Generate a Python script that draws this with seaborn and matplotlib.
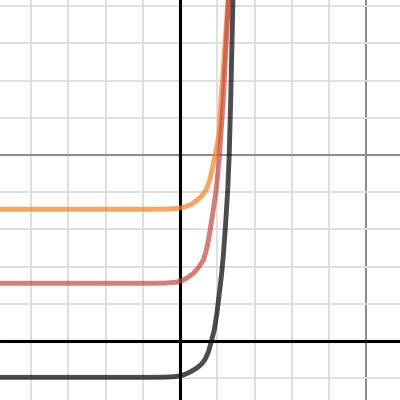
import matplotlib
matplotlib.use("Agg")
import matplotlib.pyplot as plt
import seaborn as sns
import numpy as np
import pandas as pd

# points, in graph units
dark_x = [-4.84, -0.8, -0.4, -0.13, 0.05, 0.18, 0.30, 0.45, 0.57, 0.67, 0.76, 0.83,
          0.92, 0.99, 1.05, 1.11, 1.16, 1.22, 1.28, 1.32, 1.36, 1.42, 1.44]
dark_y = [-0.98, -0.98, -0.975, -0.96, -0.93, -0.88, -0.82, -0.73, -0.63, -0.50, -0.30, -0.05,
          0.30, 0.75, 1.24, 1.75, 2.28, 3.10, 4.06, 5.00, 6.48, 9.17, 10.0]

red_x = [-4.84, -0.8, -0.4, -0.1, 0.05, 0.20, 0.36, 0.50, 0.63, 0.71, 0.77, 0.83,
         0.90, 0.97, 1.06, 1.16, 1.30, 1.33]
red_y = [1.55, 1.55, 1.555, 1.58, 1.62, 1.70, 1.82, 1.98, 2.18, 2.45, 2.75, 3.12,
         3.58, 4.06, 5.00, 6.48, 9.17, 10.0]

orange_x = [-4.84, -0.8, -0.4, -0.1, 0.13, 0.30, 0.45, 0.58, 0.70, 0.79, 0.86, 0.94,
            1.00, 1.05, 1.10, 1.29, 1.31]
orange_y = [3.54, 3.54, 3.545, 3.56, 3.60, 3.67, 3.78, 3.90, 4.06, 4.30, 4.60, 5.00,
            5.30, 5.59, 6.48, 9.17, 10.0]

curves = [
    ("orange", orange_x, orange_y, "#fa7e19"),
    ("red", red_x, red_y, "#c74440"),
    ("dark", dark_x, dark_y, "#000000"),
]

x_range = (-4.84, 5.91)
y_range = (-1.59, 9.17)

sns.set_style("white")
fig = plt.figure(figsize=(4, 4), dpi=100)
ax = fig.add_axes([0, 0, 1, 1])

ax.set_xlim(*x_range)
ax.set_ylim(*y_range)
ax.set_xticks(np.arange(-5, 10, 5))
ax.set_yticks(np.arange(-5, 15, 5))
ax.set_xticks(np.arange(-5, 7, 1), minor=True)
ax.set_yticks(np.arange(-2, 11, 1), minor=True)
ax.grid(which="minor", color="#dcdcdc", lw=1.3)
ax.grid(which="major", color="#8c8c8c", lw=1.5)
ax.tick_params(which="both", length=0, labelbottom=False, labelleft=False)
for s in ax.spines.values():
    s.set_visible(False)

ax.axhline(0, color="black", lw=2.2, zorder=2)
ax.axvline(0, color="black", lw=2.2, zorder=2)

for name, xs, ys, col in curves:
    df = pd.DataFrame({"x": xs, "y": ys})
    sns.lineplot(data=df, x="x", y="y", sort=False, color=col, alpha=0.7,
                 lw=3.5, ax=ax, zorder=3, solid_capstyle="round",
                 solid_joinstyle="round")

ax.set_xlabel("")
ax.set_ylabel("")
ax.set_xlim(*x_range)
ax.set_ylim(*y_range)

fig.savefig("out.png", dpi=100)
